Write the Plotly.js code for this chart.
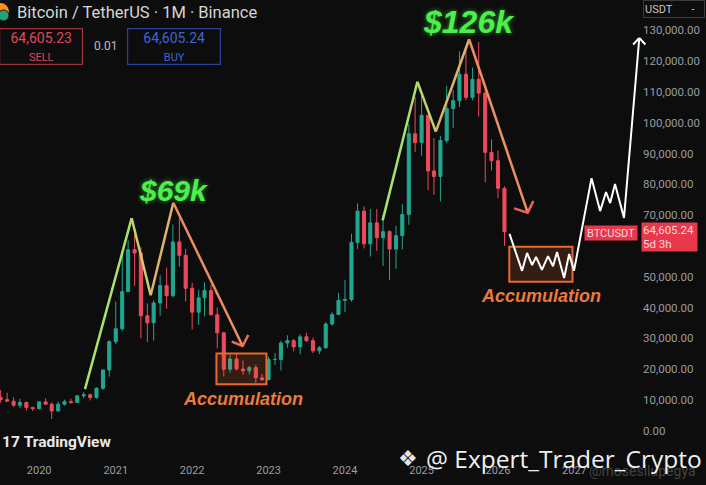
<!DOCTYPE html>
<html>
<head>
<meta charset="utf-8">
<script src="https://cdn.plot.ly/plotly-3.0.1.min.js"></script>
<style>html,body{margin:0;padding:0;background:#0d0d0d;}#chart{width:706px;height:485px;}</style>
</head>
<body>
<div id="chart"></div>
<script>
// Monthly BTC/USDT candles (Binance), Jul 2019 – Feb 2026
const months = [
 "2019-07-01","2019-08-01","2019-09-01","2019-10-01","2019-11-01","2019-12-01",
 "2020-01-01","2020-02-01","2020-03-01","2020-04-01","2020-05-01","2020-06-01","2020-07-01","2020-08-01","2020-09-01","2020-10-01","2020-11-01","2020-12-01",
 "2021-01-01","2021-02-01","2021-03-01","2021-04-01","2021-05-01","2021-06-01","2021-07-01","2021-08-01","2021-09-01","2021-10-01","2021-11-01","2021-12-01",
 "2022-01-01","2022-02-01","2022-03-01","2022-04-01","2022-05-01","2022-06-01","2022-07-01","2022-08-01","2022-09-01","2022-10-01","2022-11-01","2022-12-01",
 "2023-01-01","2023-02-01","2023-03-01","2023-04-01","2023-05-01","2023-06-01","2023-07-01","2023-08-01","2023-09-01","2023-10-01","2023-11-01","2023-12-01",
 "2024-01-01","2024-02-01","2024-03-01","2024-04-01","2024-05-01","2024-06-01","2024-07-01","2024-08-01","2024-09-01","2024-10-01","2024-11-01","2024-12-01",
 "2025-01-01","2025-02-01","2025-03-01","2025-04-01","2025-05-01","2025-06-01","2025-07-01","2025-08-01","2025-09-01","2025-10-01","2025-11-01","2025-12-01",
 "2026-01-01","2026-02-01"];
const openP = [10820,10080,9590,8290,9150,7540,
 7190,9350,8600,6410,8620,9450,9140,11330,11650,10780,13800,19700,
 28920,33090,45140,58790,57700,37300,35040,41460,47100,43820,61300,56950,
 46220,38470,43160,45510,37640,31800,19940,23290,20050,19420,20490,17160,
 16540,23130,23140,28470,29230,27210,30470,29230,25940,26960,34640,37720,
 42280,42580,61130,71290,60670,67490,62680,64630,58970,63330,70220,96410,
 93580,102430,84350,82550,94210,104590,107140,115760,108250,114050,109610,90370,
 87650,78700];
const highP = [13200,12330,10900,10370,9510,7750,
 9580,10500,9190,9470,10070,10380,11440,12470,12070,14100,19860,29300,
 41950,58350,61790,64850,59590,41330,42320,50500,52920,67000,69000,59050,
 47990,45820,48190,47440,40020,31990,24670,25210,22800,21090,21480,18390,
 23960,25250,29190,31000,29820,31390,31800,30230,27490,35200,38450,44730,
 48970,64000,73780,72800,71980,71980,70020,65100,66500,73620,99590,108350,
 109590,102500,95000,95760,111980,110530,123220,124470,117900,126200,110800,94600,
 91000,79300];
const lowP = [9100,9320,7710,7300,6520,6430,
 6850,8450,3780,6150,8110,8830,8980,10530,9820,10370,13200,17570,
 28130,32300,45000,47040,30000,28800,29280,37330,39600,43280,53260,42000,
 32920,34320,37160,37580,26700,17620,18780,19520,18130,18190,15480,16260,
 16500,21350,19550,26940,25810,24800,28860,25170,24900,26540,34100,37630,
 38560,41880,59000,59190,56550,58400,53490,49000,52550,58870,66840,90500,
 89260,78170,76600,74430,93350,98240,105100,107350,107260,102000,80600,84450,
 75500,60000];
const closeP = [10080,9590,8290,9150,7540,7190,
 9350,8600,6410,8620,9450,9140,11330,11650,10780,13800,19700,28920,
 33090,45140,58790,57700,37300,35040,41460,47100,43820,61300,56950,46220,
 38470,43160,45510,37640,31800,19940,23290,20050,19420,20490,17160,16540,
 23130,23140,28470,29230,27210,30470,29230,25940,26960,34640,37720,42280,
 42580,61130,71290,60670,67490,62680,64630,58970,63330,70220,96410,93580,
 102430,84350,82550,94210,104590,107140,115760,108250,114050,109610,90370,87650,
 78700,64605.24];

// Axis ticks
const yearTicks = ["2020-01-01","2021-01-01","2022-01-01","2023-01-01","2024-01-01","2025-01-01","2026-01-01","2027-01-01"];
const yearLabels = ["2020","2021","2022","2023","2024","2025","2026","2027"];
const priceTicks = [0,10000,20000,30000,40000,50000,70000,80000,90000,100000,110000,120000,130000];

// Drawings (chart coordinates)
const m1Dates = ["2020-08-07","2021-03-18","2021-06-17","2021-10-03","2022-08-30"];
const m1Prices = [13500,69000,44000,74000,27500];
const m1ArrowDates = ["2022-07-09","2022-08-30","2022-09-26"];
const m1ArrowPrices = [28900,27500,31070];
const m2Dates = ["2024-06-29","2024-12-12","2025-03-10","2025-08-16","2026-05-23"];
const m2Prices = [68300,113300,97100,127100,70800];
const m2ArrowDates = ["2026-03-19","2026-05-23","2026-06-19"];
const m2ArrowPrices = [72200,70800,74600];
const segColors = ["#a9e36c","#c4d36c","#dcb56a","#ec8f60"];
const projDates = ["2026-02-25","2026-04-26","2026-05-20","2026-06-13","2026-07-02","2026-07-30","2026-08-28","2026-09-21","2026-10-10","2026-11-13","2026-12-07","2026-12-30","2027-03-24","2027-05-04","2027-06-01","2027-06-21","2027-07-14","2027-08-26","2027-11-07"];
const projPrices = [63900,51900,57700,53800,56400,52200,56700,53400,58000,49600,57400,51900,82000,71300,77500,73900,80100,69100,127500];
const projArrowDates = ["2027-10-02","2027-12-13"];
const projArrowPrices = [124900,124900];
const box1 = {x0:"2022-04-27", x1:"2022-12-22", y0:15100, y1:25100};
const box2 = {x0:"2026-02-24", x1:"2026-12-23", y0:48400, y1:59700};

const UP = "#22a68f", DOWN = "#ee4a5c";
const traces = [{
  type: "candlestick", x: months, open: openP, high: highP, low: lowP, close: closeP,
  increasing: {line: {color: UP, width: 1}, fillcolor: UP},
  decreasing: {line: {color: DOWN, width: 1}, fillcolor: DOWN},
  whiskerwidth: 0, hoverinfo: "skip"
}];
function addSegments(dates, prices) {
  for (let i = 0; i < dates.length - 1; i++) {
    traces.push({type: "scatter", mode: "lines", x: [dates[i], dates[i+1]], y: [prices[i], prices[i+1]],
      line: {color: segColors[i], width: 2.5}, hoverinfo: "skip"});
  }
}
addSegments(m1Dates, m1Prices);
addSegments(m2Dates, m2Prices);
traces.push({type:"scatter",mode:"lines",x:m1ArrowDates,y:m1ArrowPrices,line:{color:"#f07060",width:2.5},hoverinfo:"skip"});
traces.push({type:"scatter",mode:"lines",x:m2ArrowDates,y:m2ArrowPrices,line:{color:"#f0605a",width:2.5},hoverinfo:"skip"});
traces.push({type:"scatter",mode:"lines",x:projDates,y:projPrices,line:{color:"#ffffff",width:2},hoverinfo:"skip"});

const last = projDates.length - 1;
const annotations = [];
// projection arrow head arms
for (let i = 0; i < projArrowDates.length; i++) {
  annotations.push({xref:"x", yref:"y", axref:"x", ayref:"y", x: projDates[last], y: projPrices[last],
    ax: projArrowDates[i], ay: projArrowPrices[i], showarrow: true, arrowhead: 0, arrowwidth: 2, arrowcolor: "#ffffff", text: ""});
}
const PW = 642, PH = 455;
const px = v => v / PW, py = v => 1 - v / PH;
function txt(x, y, text, font, extra) {
  annotations.push(Object.assign({xref:"paper", yref:"paper", x: px(x), y: py(y), text: text, showarrow:false,
    font: font, xanchor:"center", yanchor:"middle"}, extra || {}));
}
txt(15, 12, "Bitcoin / TetherUS · 1M · Binance", {family:"Roboto", size:16.5, color:"#d6d6d6"}, {xanchor:"left"});
txt(41.5, 46.5, "64,605.23<br><span style='font-size:11px'>SELL</span>", {family:"Roboto", size:14, color:"#e0475a"},
  {bordercolor:"#9e3440", borderwidth:1.2, borderpad:2, width:78, height:31});
txt(105, 46, "0.01", {family:"Roboto", size:12, color:"#bdbdbd"});
txt(173.5, 46.5, "64,605.24<br><span style='font-size:11px'>BUY</span>", {family:"Roboto", size:14, color:"#3e63d6"},
  {bordercolor:"#2a449a", borderwidth:1.2, borderpad:2, width:88, height:31});
txt(674, 9, "USDT&nbsp;&nbsp;&nbsp;&nbsp;&nbsp;&nbsp;&nbsp;-", {family:"Roboto", size:11, color:"#c8c8c8"},
  {bordercolor:"#3a3a3a", borderwidth:1, width:58, height:14, align:"left"});
txt(173.5, 190, "$69k", {family:"Liberation Sans", size:30, color:"#4cf04a", weight:"bold", style:"italic", shadow:"0 0 5px rgba(80,255,80,0.55)"});
txt(468.5, 22, "$126k", {family:"Liberation Sans", size:32, color:"#4cf04a", weight:"bold", style:"italic", shadow:"0 0 5px rgba(80,255,80,0.55)"});
txt(243, 399, "Accumulation", {family:"Liberation Sans", size:18, color:"#ec7a3e", weight:"bold", style:"italic"});
txt(540.5, 296, "Accumulation", {family:"Liberation Sans", size:18, color:"#ec7a3e", weight:"bold", style:"italic"});
txt(611, 233, "BTCUSDT", {family:"Roboto", size:11, color:"#ffd6da"}, {bgcolor:"#e8384c", width:50, height:12});
txt(669.5, 237, "64,605.24<br>5d 3h", {family:"Roboto", size:11.5, color:"#ffd6da"}, {bgcolor:"#e8384c", width:53, height:26, align:"left"});
txt(0, 442, "<b>17</b> <b>TradingView</b>", {family:"Roboto", size:15.5, color:"#e8e8e8"}, {xanchor:"left"});
txt(698, 471, "@mosesilupegya", {family:"Roboto", size:14, color:"rgba(200,200,200,0.3)"}, {xanchor:"right"});
txt(408, 458, "❖", {family:"DejaVu Sans", size:22, color:"#e6e6e6"});
txt(424, 458, "@ Expert_Trader_Crypto", {family:"Open Sans", size:24.5, color:"#f0f0f0"}, {xanchor:"left"});

const shapes = [
  {type:"rect", xref:"x", yref:"y", x0:box1.x0, x1:box1.x1, y0:box1.y0, y1:box1.y1,
   line:{color:"#e8692b", width:2}, fillcolor:"rgba(232,105,43,0.18)", layer:"above"},
  {type:"rect", xref:"x", yref:"y", x0:box2.x0, x1:box2.x1, y0:box2.y0, y1:box2.y1,
   line:{color:"#e8692b", width:2}, fillcolor:"rgba(232,105,43,0.18)", layer:"below"},
  {type:"circle", xref:"paper", yref:"paper", x0:px(-8), x1:px(9), y0:py(20), y1:py(3),
   fillcolor:"#f7931a", line:{width:0}},
  {type:"circle", xref:"paper", yref:"paper", x0:px(-2), x1:px(9), y0:py(21), y1:py(10),
   fillcolor:"#26a17b", line:{color:"#0d0d0d", width:1}}
];

const layout = {
  width: 706, height: 485,
  margin: {l:0, r:64, t:0, b:30},
  paper_bgcolor: "#0d0d0d", plot_bgcolor: "#0d0d0d",
  showlegend: false, dragmode: false,
  xaxis: {type:"date", range:["2019-06-28","2027-11-20"], tickvals: yearTicks, ticktext: yearLabels,
    showgrid:false, zeroline:false, showline:false, rangeslider:{visible:false},
    ticks:"outside", ticklen:5, tickcolor:"rgba(0,0,0,0)",
    tickfont:{family:"Roboto", size:11, color:"#9a9ca3"}},
  yaxis: {side:"right", range:[-7890, 139840], tickvals: priceTicks, tickformat:",.2f",
    showgrid:false, zeroline:false, showline:false, ticks:"", 
    tickfont:{family:"Roboto", size:11.5, color:"#9a9ca3"}},
  annotations: annotations, shapes: shapes, boxgap: 0.25
};
Plotly.newPlot("chart", traces, layout, {staticPlot:true, displayModeBar:false});
</script>
</body>
</html>
